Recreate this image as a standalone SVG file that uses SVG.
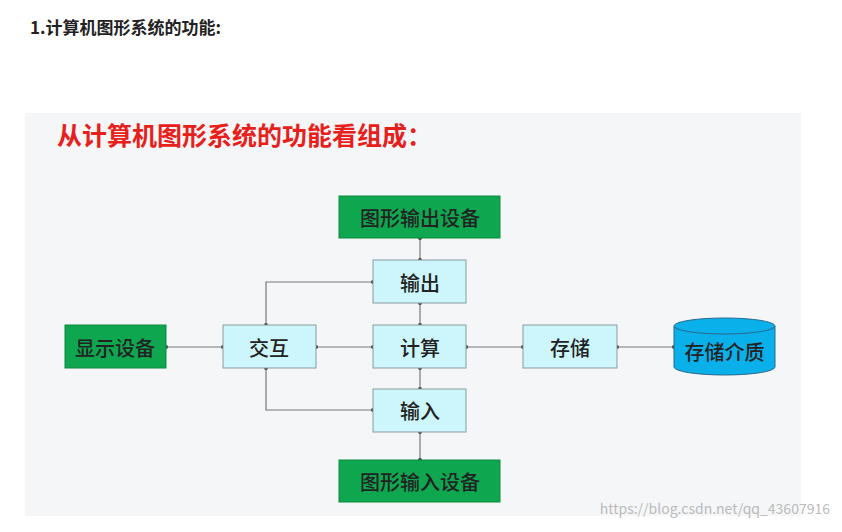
<svg xmlns="http://www.w3.org/2000/svg" width="842" height="532" viewBox="0 0 842 532">
<style>
text{font-family:"Noto Sans CJK SC","Liberation Sans",sans-serif;}
.g rect{fill:#0fa650;stroke:#0b8a40;stroke-width:1}
.b rect{fill:#ccf6fb;stroke:#8a9aa0;stroke-width:1}
.lbl{font-size:20px;font-weight:500;fill:#222;text-anchor:middle;dominant-baseline:central}
.c path{fill:none;stroke:#777;stroke-width:1.2;marker-start:url(#m);marker-end:url(#m)}
</style>
<defs><marker id="m" viewBox="0 0 6 6" refX="3" refY="3" markerWidth="4" markerHeight="4" orient="auto"><circle cx="3" cy="3" r="2.5" fill="#444"/></marker></defs>
<rect width="842" height="532" fill="#fff"/>
<text x="30" y="34" font-size="17" font-weight="bold" fill="#222">1.计算机图形系统的功能:</text>
<rect x="25" y="113" width="776" height="403" fill="#f4f6f7"/>
<text x="57" y="145" font-size="25" font-weight="bold" fill="#e8201c">从计算机图形系统的功能看组成：</text>
<g class="c">
<path d="M166 347H223"/><path d="M316 347H373"/><path d="M466 347H523"/><path d="M617 347H674"/>
<path d="M420 325V303"/><path d="M420 260V238"/><path d="M420 389V368"/><path d="M420 460V432"/>
<path d="M266 325V282H373"/><path d="M266 368V410H373"/>
</g>
<g id="n-xianshi" class="g"><rect x="65" y="325" width="101" height="43"/><text class="lbl" x="115" y="347">显示设备</text></g>
<g id="n-jiaohu" class="b"><rect x="223" y="325" width="93" height="43"/><text class="lbl" x="269" y="347">交互</text></g>
<g id="n-jisuan" class="b"><rect x="373" y="325" width="93" height="43"/><text class="lbl" x="420" y="347">计算</text></g>
<g id="n-shuchu" class="b"><rect x="373" y="260" width="93" height="43"/><text class="lbl" x="420" y="282">输出</text></g>
<g id="n-shuru" class="b"><rect x="373" y="389" width="93" height="43"/><text class="lbl" x="420" y="410">输入</text></g>
<g id="n-outdev" class="g"><rect x="339" y="196" width="161" height="42"/><text class="lbl" x="420" y="217">图形输出设备</text></g>
<g id="n-indev" class="g"><rect x="339" y="460" width="161" height="42"/><text class="lbl" x="420" y="481">图形输入设备</text></g>
<g id="n-cunchu" class="b"><rect x="523" y="325" width="94" height="43"/><text class="lbl" x="570" y="347">存储</text></g>
<g id="n-jiezhi"><path d="M674 326V367A50.5 8 0 0 0 775 367V326" fill="#0ab0ea" stroke="#2a6a90"/><ellipse cx="724.5" cy="326" rx="50.5" ry="8" fill="#0ab0ea" stroke="#2a6a90"/><text class="lbl" x="724.5" y="351">存储介质</text></g>
<text x="830" y="514" font-size="14" fill="#bbb" text-anchor="end">https://blog.csdn.net/qq_43607916</text>
</svg>
